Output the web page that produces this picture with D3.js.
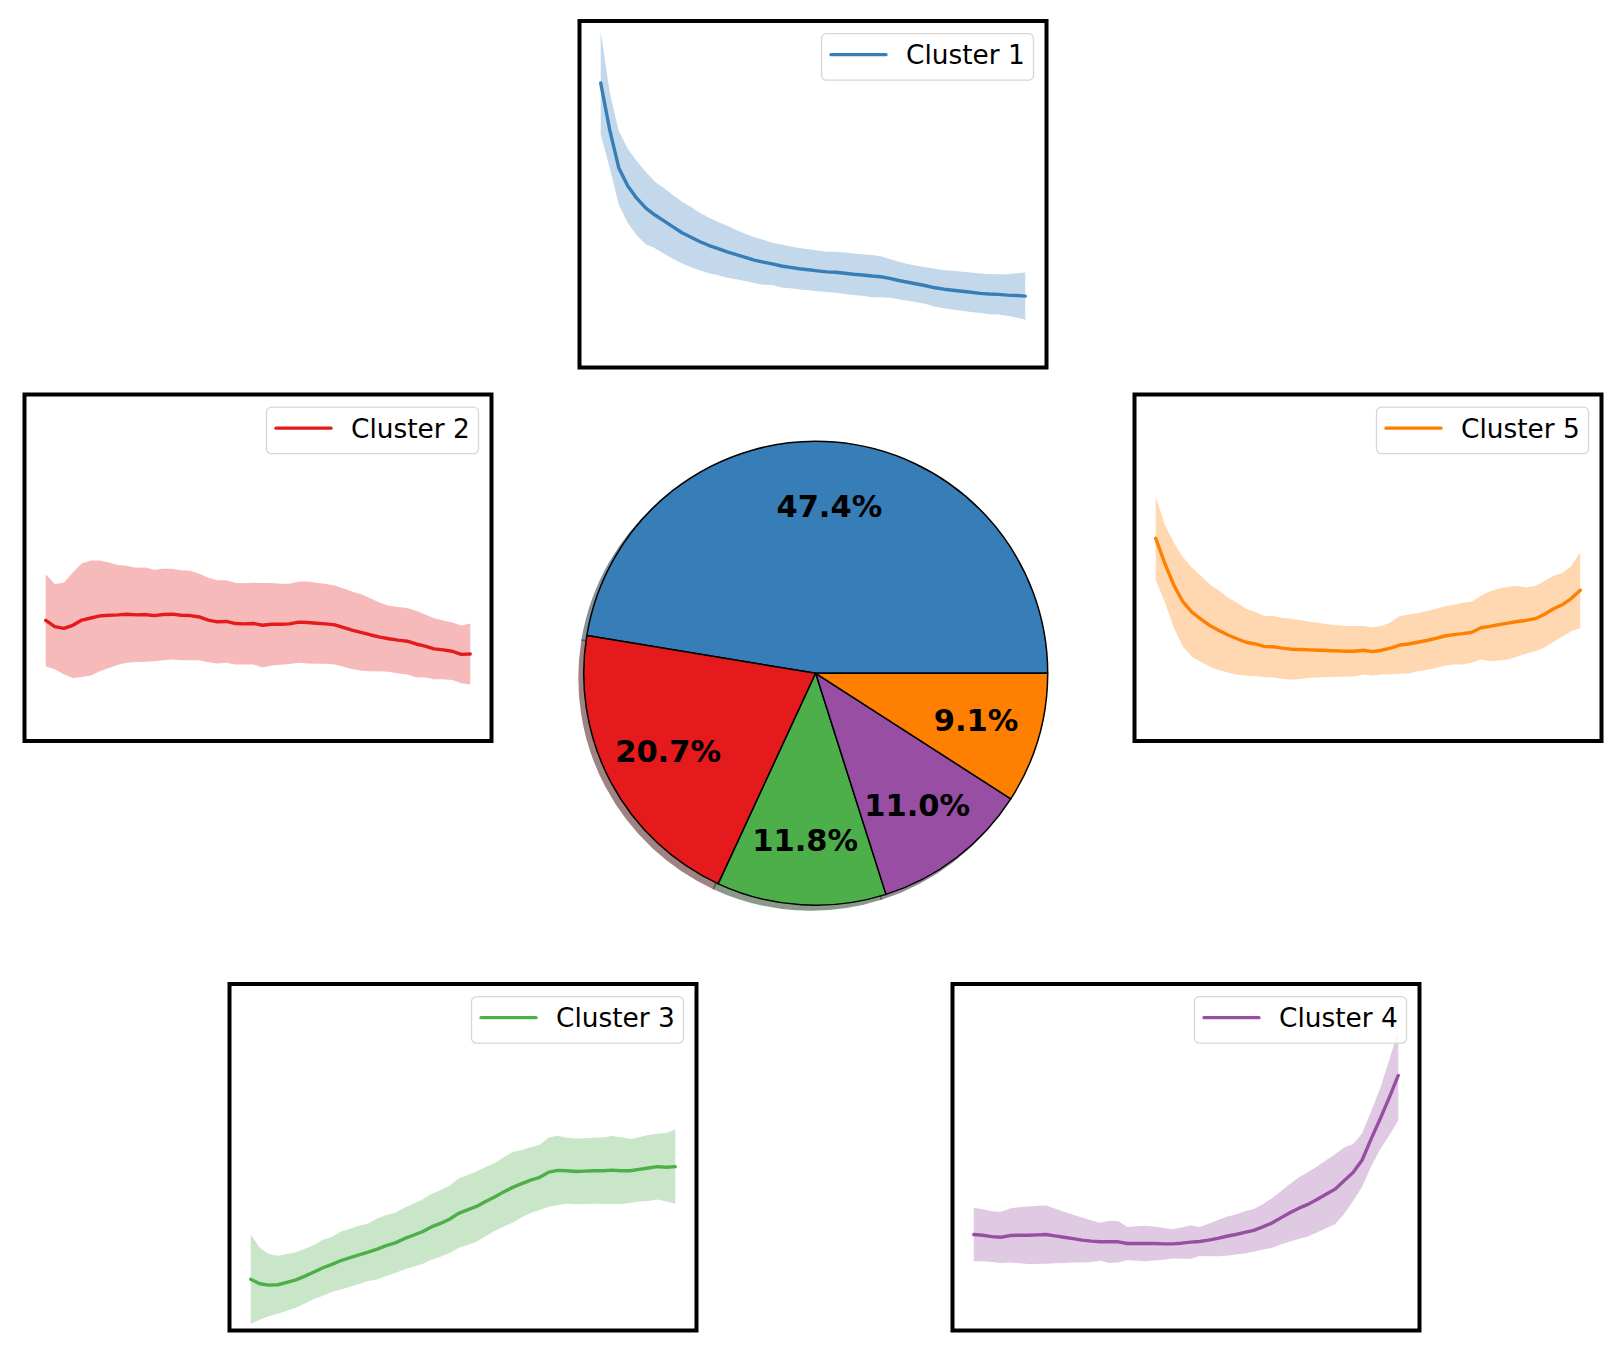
<!DOCTYPE html>
<html><head><meta charset="utf-8">
<script src="https://cdn.jsdelivr.net/npm/d3@7"></script>
<style>body{margin:0;background:#fff}svg{display:block}</style>
</head><body><svg id="chart" width="1613" height="1356"></svg>
<script>
const clusters = ["Cluster 1","Cluster 2","Cluster 3","Cluster 4","Cluster 5"];
const colors = ["#377eb8","#e41a1c","#4daf4a","#984ea3","#ff7f00"];
const shares = [47.4, 20.7, 11.8, 11.0, 9.1];

const mean1 = [82.1,68.5,57.6,52.4,48.8,46.0,44.0,42.3,40.6,38.9,37.6,36.3,35.2,34.3,33.4,32.6,31.8,31.0,30.4,29.9,29.3,28.9,28.5,28.2,27.9,27.6,27.5,27.2,26.9,26.7,26.4,26.2,25.7,25.1,24.6,24.1,23.6,23.0,22.6,22.3,22.0,21.7,21.4,21.2,21.1,20.9,20.8,20.6];
const std1  = [14.9,10.9,10.6,10.7,10.7,10.4,9.6,9.5,9.2,8.9,8.7,8.3,8.0,7.7,7.5,7.1,6.8,6.6,6.5,6.1,6.2,6.0,6.0,5.9,5.9,5.8,5.9,6.0,6.0,6.0,6.1,5.9,5.6,5.4,5.3,5.3,5.3,5.5,5.5,5.6,5.6,5.7,5.7,5.8,5.8,6.0,6.4,6.8];

const mean2 = [34.8,33.0,32.5,33.4,34.9,35.5,36.1,36.3,36.4,36.6,36.4,36.5,36.2,36.5,36.6,36.3,36.2,35.8,34.9,34.4,34.5,33.9,33.8,33.9,33.4,33.7,33.7,33.8,34.3,34.2,34.0,33.8,33.5,32.7,31.9,31.3,30.6,30.0,29.5,29.1,28.8,28.0,27.4,26.6,26.3,25.9,25.0,25.1];
const std2  = [13.3,12.3,13.2,15.2,16.4,16.6,16.0,15.2,14.4,14.0,13.6,13.6,13.2,13.2,13.1,13.0,12.9,12.5,12.2,12.0,11.9,11.8,11.7,11.8,12.2,11.9,11.7,11.6,11.7,11.8,11.7,11.5,11.4,11.3,11.2,11.0,10.5,9.9,9.5,9.6,9.6,9.6,9.1,8.8,8.5,8.3,8.3,8.8];

const mean3 = [14.8,13.5,13.1,13.2,13.9,14.6,15.7,16.9,18.1,19.1,20.2,21.0,21.8,22.6,23.5,24.5,25.3,26.5,27.5,28.5,29.9,30.9,32.1,33.8,34.8,35.8,37.2,38.5,40.0,41.3,42.4,43.4,44.2,45.7,46.2,46.1,45.9,46.0,46.1,46.1,46.3,46.1,46.1,46.5,46.9,47.3,47.1,47.3];
const std3  = [12.9,10.4,9.0,8.4,8.2,8.0,7.9,7.8,8.1,7.9,8.4,8.4,8.4,8.3,8.8,8.8,8.7,8.9,9.1,9.3,9.5,9.6,9.7,10.0,10.1,10.1,10.0,9.8,10.0,10.2,9.7,9.5,9.4,10.0,10.0,9.5,9.5,9.5,9.5,9.6,9.8,9.7,9.2,9.3,9.5,9.5,9.9,10.7];

const mean4 = [27.7,27.5,27.1,26.9,27.4,27.5,27.5,27.6,27.7,27.3,26.9,26.5,26.1,25.8,25.6,25.6,25.6,25.1,25.1,25.1,25.1,25.0,25.0,25.2,25.5,25.7,26.1,26.6,27.2,27.7,28.3,28.9,29.9,31.0,32.5,34.0,35.3,36.4,37.8,39.3,40.8,43.2,45.6,49.2,55.3,61.1,67.2,73.6];
const std4  = [7.7,7.5,7.3,7.4,7.8,8.1,8.3,8.4,8.4,7.9,7.4,6.9,6.5,6.0,5.5,6.1,6.0,4.8,5.0,5.1,4.9,4.6,4.2,4.5,4.9,4.2,4.7,5.2,5.6,5.8,6.1,6.2,6.5,7.2,7.7,8.3,8.9,9.3,9.5,9.8,10.1,9.6,8.2,7.7,8.0,8.8,10.9,13.0];

const mean5 = [58.5,51.3,45.0,40.2,37.2,35.2,33.3,31.9,30.6,29.5,28.5,28.0,27.3,27.2,26.8,26.5,26.4,26.3,26.2,26.1,26.0,25.9,25.9,26.2,25.8,26.2,26.8,27.7,28.0,28.5,29.0,29.6,30.3,30.7,31.0,31.4,32.7,33.1,33.6,34.0,34.5,34.8,35.3,36.5,38.1,39.3,41.1,43.5];
const std5  = [12.0,11.2,12.3,12.9,12.9,12.4,11.9,11.5,10.8,10.4,9.7,9.3,8.8,8.9,8.8,8.8,8.5,8.1,7.9,7.6,7.5,7.3,7.3,7.0,7.0,7.0,7.5,8.3,8.5,8.4,8.5,8.5,8.6,8.6,8.9,8.8,9.2,10.1,10.4,10.5,10.2,9.6,9.4,9.6,9.5,9.2,9.4,10.9];

const means = [mean1, mean2, mean3, mean4, mean5];
const stds = [std1, std2, std3, std4, std5];

const svg = d3.select("#chart");
const FONT = "'DejaVu Sans', 'Liberation Sans', sans-serif";

// panel layout (axes boxes)
const panelW = 467, panelH = 346.5;
const panels = [
  {left: 579.5, top: 21},    // Cluster 1
  {left: 24.5, top: 394.5},  // Cluster 2
  {left: 229.5, top: 984},   // Cluster 3
  {left: 952.5, top: 984},   // Cluster 4
  {left: 1134.5, top: 394.5} // Cluster 5
];

// ---- pie ----
const cx = 815.7, cy = 673.3, R = 232;
const pie = d3.pie().sort(null).startAngle(Math.PI/2).endAngle(Math.PI/2 - 2*Math.PI);
const arcs = pie(shares);
const arc = d3.arc().innerRadius(0).outerRadius(R);
const gPie = svg.append("g").attr("transform", `translate(${cx},${cy})`);
const gShadow = gPie.append("g").attr("transform", `translate(${-0.02*R},${0.02*R})`);
gShadow.selectAll("path").data(arcs).enter().append("path")
  .attr("d", arc)
  .attr("fill", (d,i) => { const c = d3.rgb(colors[i]); return d3.rgb(c.r*0.3, c.g*0.3, c.b*0.3); })
  .attr("stroke", (d,i) => { const c = d3.rgb(colors[i]); return d3.rgb(c.r*0.3, c.g*0.3, c.b*0.3); })
  .attr("stroke-width", 1.5)
  .attr("opacity", 0.5);
gPie.selectAll("path.w").data(arcs).enter().append("path").attr("class","w")
  .attr("d", arc)
  .attr("fill", (d,i) => colors[i])
  .attr("stroke", "#000").attr("stroke-width", 1.5).attr("stroke-linejoin","round");
const labelArc = d3.arc().innerRadius(R*0.72).outerRadius(R*0.72);
gPie.selectAll("text").data(arcs).enter().append("text")
  .attr("transform", d => `translate(${labelArc.centroid(d)})`)
  .attr("text-anchor","middle").attr("dominant-baseline","central")
  .attr("font-family", FONT).attr("font-weight","bold").attr("font-size", 30.5)
  .attr("fill","#000")
  .text(d => d3.format(".1f")(d.data) + "%");

// ---- panels ----
panels.forEach((p, k) => {
  const m = means[k], s = stds[k];
  const pad = panelW * 0.05 / 1.1;
  const x = d3.scaleLinear().domain([0, m.length - 1]).range([p.left + pad, p.left + panelW - pad]);
  const y = d3.scaleLinear().domain([0, 100]).range([p.top + panelH, p.top]);
  const g = svg.append("g");
  g.append("rect").attr("x", p.left).attr("y", p.top).attr("width", panelW).attr("height", panelH).attr("fill", "#fff");
  const clipId = "clip" + k;
  g.append("clipPath").attr("id", clipId).append("rect")
    .attr("x", p.left).attr("y", p.top).attr("width", panelW).attr("height", panelH);
  const area = d3.area().x((d,i) => x(i)).y0((d,i) => y(m[i] - s[i])).y1((d,i) => y(m[i] + s[i]));
  const line = d3.line().x((d,i) => x(i)).y(d => y(d));
  g.append("path").datum(m).attr("clip-path", `url(#${clipId})`)
    .attr("d", area).attr("fill", colors[k]).attr("fill-opacity", 0.3).attr("stroke","none");
  g.append("path").datum(m).attr("clip-path", `url(#${clipId})`)
    .attr("d", line).attr("fill","none").attr("stroke", colors[k]).attr("stroke-width", 3.4)
    .attr("stroke-linejoin","round").attr("stroke-linecap","round");
  // legend
  const lw = 212, lh = 46.5;
  const lx = p.left + panelW - 2 - 11 - lw, ly = p.top + 2 + 10.7;
  g.append("rect").attr("x", lx).attr("y", ly).attr("width", lw).attr("height", lh).attr("rx", 5).attr("ry", 5)
    .attr("fill", "#fff").attr("fill-opacity", 0.8).attr("stroke", "#d6d6d6").attr("stroke-width", 1.3);
  g.append("line").attr("x1", lx + 9.5).attr("x2", lx + 64.5).attr("y1", ly + 21).attr("y2", ly + 21)
    .attr("stroke", colors[k]).attr("stroke-width", 3.3).attr("stroke-linecap","round");
  g.append("text").attr("x", lx + 84.5).attr("y", ly + 30.3)
    .attr("font-family", FONT).attr("font-size", 26.4).attr("fill","#000")
    .text(clusters[k]);
  // frame
  g.append("rect").attr("x", p.left).attr("y", p.top).attr("width", panelW).attr("height", panelH)
    .attr("fill","none").attr("stroke","#000").attr("stroke-width", 4);
});
</script></body></html>
